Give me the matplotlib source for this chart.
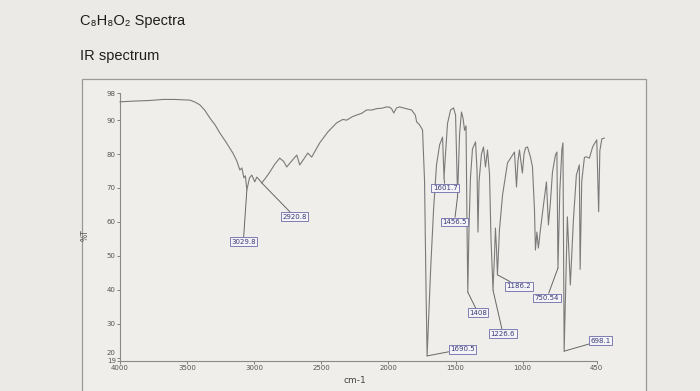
import matplotlib
matplotlib.use("Agg")
import matplotlib.pyplot as plt
from matplotlib.patches import Rectangle
from matplotlib.transforms import ScaledTranslation
import numpy as np

# ---- data ----
wavenumber = [4000, 3900, 3777, 3680, 3591, 3530, 3479, 3440, 3405, 3370, 3330, 3290, 3256, 3210,
              3159, 3130, 3107, 3092, 3077, 3066, 3055, 3035, 3018, 2996, 2981, 2962, 2944, 2914,
              2884, 2847, 2810, 2780, 2758, 2720, 2683, 2661, 2631, 2601, 2572, 2542, 2512, 2452,
              2386, 2340, 2311, 2270, 2237, 2200, 2162, 2120, 2088, 2050, 2014, 1990, 1976, 1960,
              1954, 1940, 1917, 1880, 1850, 1828, 1800, 1790, 1768, 1746, 1731, 1720, 1712, 1701,
              1686, 1664, 1642, 1619, 1597, 1586, 1575, 1560, 1537, 1515, 1500, 1485, 1470, 1456,
              1444, 1433, 1422, 1415, 1409, 1400, 1389, 1374, 1351, 1340, 1333, 1325, 1307, 1292,
              1277, 1262, 1247, 1236, 1221, 1210, 1203, 1195, 1188, 1173, 1150, 1113, 1076, 1061,
              1046, 1035, 1024, 1002, 990, 979, 964, 942, 927, 912, 905, 894, 883, 868, 845, 823,
              808, 793, 778, 756, 745, 737, 723, 708, 700, 695, 691, 682, 667, 645, 622, 600, 578,
              572, 560, 540, 527, 503, 478, 448, 434, 425, 410, 392]
transmittance = [95.4, 95.6, 95.8, 96.1, 96.1, 96.0, 95.9, 95.3, 94.5, 93.0, 90.6, 88.5, 86.2, 83.5,
                 80.3, 78.0, 75.3, 75.9, 73.0, 73.6, 69.4, 73.0, 73.8, 71.8, 73.2, 72.4, 71.5, 73.0,
                 74.7, 77.0, 78.8, 77.8, 76.2, 78.0, 79.7, 76.8, 78.5, 80.3, 79.1, 81.2, 83.3, 86.5,
                 89.2, 90.2, 90.0, 91.0, 91.5, 92.0, 93.0, 93.0, 93.4, 93.5, 93.9, 93.8, 93.3, 92.1,
                 92.6, 93.6, 93.9, 93.5, 93.2, 93.0, 91.5, 89.5, 88.6, 87.1, 72.0, 40.0, 20.5, 31.1,
                 45.8, 63.5, 76.8, 82.7, 85.0, 73.0, 80.0, 89.0, 93.0, 93.6, 91.5, 67.6, 86.0, 92.4,
                 90.5, 87.0, 88.3, 60.0, 39.3, 58.0, 73.0, 81.5, 83.6, 75.0, 57.0, 72.0, 80.0, 82.1,
                 76.2, 81.2, 74.0, 55.0, 39.9, 50.0, 58.2, 52.0, 44.4, 57.6, 67.9, 77.4, 79.7, 80.6,
                 70.3, 78.0, 81.2, 74.4, 80.0, 81.8, 82.1, 79.1, 76.2, 63.5, 51.7, 57.0, 52.3, 57.6,
                 65.0, 71.8, 59.1, 66.0, 74.7, 79.7, 80.6, 46.4, 69.4, 81.2, 83.3, 51.7, 21.9, 37.0,
                 61.5, 41.4, 60.6, 73.8, 76.8, 46.0, 72.0, 79.0, 79.2, 78.8, 82.2, 84.2, 63.0, 81.0,
                 84.5, 84.7]

peak_labels = [3029.8, 2920.8, 1690.5, 1601.7, 1456.5, 1408, 1226.6, 1186.2, 750.54, 698.1]

x_ticks = [4000, 3500, 3000, 2500, 2000, 1500, 1000, 450]
y_ticks = [19, 20, 30, 40, 50, 60, 70, 80, 90, 98]

# label box placement (layout only)
label_pos = [(3081, 54.2), (2698, 61.5), (1448, 22.5), (1578, 70.0), (1508, 60.0),
             (1333, 33.2), (1147, 27.1), (1028, 41.0), (819, 37.6), (418, 25.0)]

W, H = 700, 391
fig = plt.figure(figsize=(W / 100, H / 100), dpi=100)
fig.patch.set_facecolor("#ebeae6")

title_font = ["Liberation Sans", "DejaVu Sans"]
fig.text(80 / W, 1 - 21 / H, "C\u2088H\u2088O\u2082 Spectra", fontsize=10.5,
         family=title_font, color="#1e1e1e", va="center", ha="left")
fig.text(80 / W, 1 - 56 / H, "IR spectrum", fontsize=10.5,
         family=title_font, color="#1e1e1e", va="center", ha="left")

# outer panel frame
frame = Rectangle((82 / W, -0.05), (646 - 82) / W, (1 - 79 / H) + 0.05,
                  transform=fig.transFigure, fc="#efeeeb", ec="#9a9a9a", lw=0.9,
                  zorder=-5)
fig.patches.append(frame)

ax_w = (596.5 - 120) / W
ax = fig.add_axes([120 / W, 1 - 361 / H, ax_w, (361 - 93) / H])
ax.set_zorder(2)
ax.set_facecolor("none")
ax.plot(wavenumber, transmittance, color="#7a7a7a", lw=0.8, clip_on=False, zorder=3)
ax.set_xlim(4000, 450)
ax.set_ylim(19, 98)
ax.set_xticks(x_ticks)
ax.set_xticklabels([str(t) for t in x_ticks])
ax.set_yticks(y_ticks)
ax.set_yticklabels([str(t) for t in y_ticks])
for s in ["top", "right"]:
    ax.spines[s].set_visible(False)
for s in ["left", "bottom"]:
    ax.spines[s].set_color("#8a8a8a")
    ax.spines[s].set_linewidth(0.8)
ax.tick_params(axis="both", labelsize=5, colors="#555555", length=2, width=0.5, pad=1)

# the two lowest y labels sit stacked (19 below 20), as in the reference
for lbl in ax.get_yticklabels():
    if lbl.get_text() == "20":
        lbl.set_va("bottom")
        lbl.set_transform(lbl.get_transform() + ScaledTranslation(0, 0.8 / 72, fig.dpi_scale_trans))
    elif lbl.get_text() == "19":
        lbl.set_va("top")
        lbl.set_transform(lbl.get_transform() + ScaledTranslation(0, 2.5 / 72, fig.dpi_scale_trans))

ax.set_xlabel("cm-1", fontsize=6.5, color="#444444")
ax.xaxis.set_label_coords((355 - 120) / (596.5 - 120), -15 / 268)
ax.set_ylabel("%T", fontsize=5.5, color="#555555")
ax.yaxis.set_label_coords(-30 / 476.5, 0.47)

wn = np.array(wavenumber, dtype=float)
tr = np.array(transmittance, dtype=float)
for lab, pos in zip(peak_labels, label_pos):
    m = np.abs(wn - lab) <= 30
    idx = np.where(m)[0][np.argmin(tr[m])]
    ax.annotate(f"{lab:g}", xy=(wn[idx], tr[idx]), xytext=pos,
                ha="center", va="center", fontsize=5, color="#3b3b78",
                bbox=dict(boxstyle="square,pad=0.2", fc="#f3f3f8", ec="#6b6ba8", lw=0.6),
                arrowprops=dict(arrowstyle="-", color="#666666", lw=0.7,
                                shrinkA=0, shrinkB=0),
                zorder=4, annotation_clip=False)

fig.savefig("out.png", dpi=100, facecolor=fig.get_facecolor())
